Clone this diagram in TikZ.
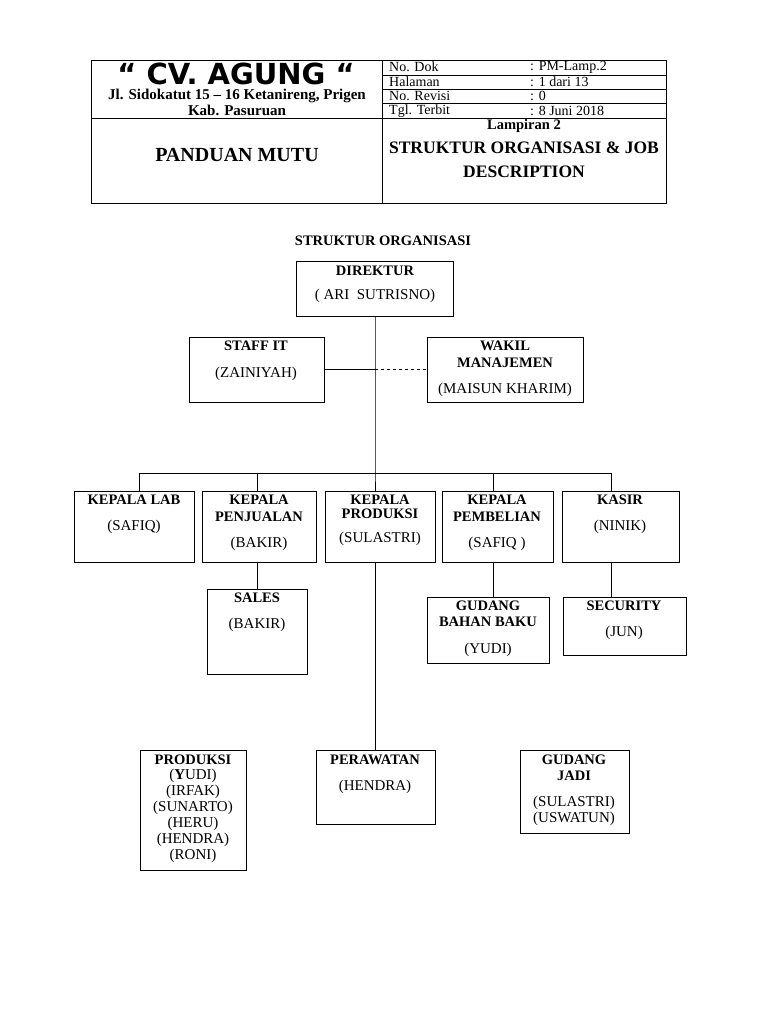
\documentclass[tikz,border=0pt]{standalone}
\usepackage{fontspec}
\setmainfont{Liberation Serif}
\newfontfamily\dejab{DejaVu Sans}
\begin{document}
\begin{tikzpicture}[x=1pt,y=-1pt,
  box/.style={draw,line width=0.8pt,inner sep=0pt,anchor=north west},
  ln/.style={line width=0.8pt},
  b/.style={font=\fontsize{14.5}{16}\selectfont\bfseries,inner sep=0pt},
  r/.style={font=\fontsize{15}{16}\selectfont,inner sep=0pt},
  hd/.style={font=\fontsize{14}{15}\selectfont,inner sep=0pt,anchor=west}]
\useasboundingbox[fill=white] (0,0) rectangle (768,1024);
% header
\draw[ln] (91,60) rectangle (666,203);
\draw[ln] (382,60) -- (382,203);
\draw[ln] (91,118) -- (666,118);
\foreach \yy in {75,89,103} \draw[ln] (382,\yy) -- (666,\yy);
\node[inner sep=0pt,font=\dejab\fontsize{29}{30}\selectfont\bfseries] (cv) at (236,74) {“ CV. AGUNG “};
\node[inner sep=0pt,font=\fontsize{15}{16}\selectfont\bfseries] (ad1) at (237,96) {Jl. Sidokatut 15 – 16 Ketanireng, Prigen};
\node[inner sep=0pt,font=\fontsize{15}{16}\selectfont\bfseries] (ad2) at (237,110) {Kab. Pasuruan};
\node[hd] (h1) at (389,67) {No. Dok}; \node[hd] (v1) at (530,67) {: PM-Lamp.2};
\node[hd] (h2) at (389,82) {Halaman}; \node[hd] (v2) at (530,82) {: 1 dari 13};
\node[hd] (h3) at (389,96) {No. Revisi}; \node[hd] (v3) at (530,96) {: 0};
\node[hd] (h4) at (389,111) {Tgl. Terbit}; \node[hd] (v4) at (530,111) {: 8 Juni 2018};
\node[inner sep=0pt,font=\fontsize{20}{22}\selectfont\bfseries] (pm) at (237,155) {PANDUAN MUTU};
\node[inner sep=0pt,font=\fontsize{14.5}{16}\selectfont\bfseries] (lam) at (524,126) {Lampiran 2};
\node[inner sep=0pt,font=\fontsize{17.5}{19}\selectfont\bfseries] (so1) at (524,148) {STRUKTUR ORGANISASI \& JOB};
\node[inner sep=0pt,font=\fontsize{17.5}{19}\selectfont\bfseries] (so2) at (524,172) {DESCRIPTION};
\node[b] (title) at (383,241) {STRUKTUR ORGANISASI};
% boxes
\node[box,minimum width=157pt,minimum height=55pt] (dir) at (296,261) {};
\node[b] at (375,271) {DIREKTUR}; \node[r] at (375,296) {( ARI\ \ SUTRISNO)};
\node[box,minimum width=135pt,minimum height=65pt] (sit) at (189,337) {};
\node[b] at (256,346) {STAFF IT}; \node[r] at (256,374) {(ZAINIYAH)};
\node[box,minimum width=156pt,minimum height=65pt] (wak) at (427,337) {};
\node[b] at (505,346) {WAKIL}; \node[b] at (505,363) {MANAJEMEN}; \node[r] at (505,390) {(MAISUN KHARIM)};
% row
\node[box,minimum width=120pt,minimum height=71pt] (lab) at (74,491) {};
\node[b] at (134,500) {KEPALA LAB}; \node[r] at (134,527) {(SAFIQ)};
\node[box,minimum width=114pt,minimum height=71pt] (pen) at (202,491) {};
\node[b] at (259,500) {KEPALA}; \node[b] at (259,517) {PENJUALAN}; \node[r] at (259,544) {(BAKIR)};
\node[box,minimum width=110pt,minimum height=71pt] (pro) at (325,491) {};
\node[b] at (380,500) {KEPALA}; \node[b] at (380,514) {PRODUKSI}; \node[r] at (380,539) {(SULASTRI)};
\node[box,minimum width=111pt,minimum height=71pt] (pem) at (442,491) {};
\node[b] at (497,500) {KEPALA}; \node[b] at (497,517) {PEMBELIAN}; \node[r] at (497,544) {(SAFIQ )};
\node[box,minimum width=117pt,minimum height=71pt] (kas) at (562,491) {};
\node[b] at (620,500) {KASIR}; \node[r] at (620,527) {(NINIK)};
\node[box,minimum width=100pt,minimum height=85pt] (sal) at (207,589) {};
\node[b] at (257,598) {SALES}; \node[r] at (257,625) {(BAKIR)};
\node[box,minimum width=122pt,minimum height=66pt] (gbb) at (427,597) {};
\node[b] at (488,606) {GUDANG}; \node[b] at (488,622) {BAHAN BAKU}; \node[r] at (488,650) {(YUDI)};
\node[box,minimum width=123pt,minimum height=58pt] (sec) at (563,597) {};
\node[b] at (624,606) {SECURITY}; \node[r] at (624,633) {(JUN)};
% bottom
\node[box,minimum width=106pt,minimum height=120pt] (prd) at (140,750) {};
\node[b] at (193,760) {PRODUKSI};
\node[r] at (193,776) {(\textbf{Y}UDI)}; \node[r] at (193,792) {(IRFAK)};
\node[r] at (193,808) {(SUNARTO)}; \node[r] at (193,824) {(HERU)};
\node[r] at (193,840) {(HENDRA)}; \node[r] at (193,856) {(RONI)};
\node[box,minimum width=119pt,minimum height=74pt] (per) at (316,750) {};
\node[b] at (375,760) {PERAWATAN}; \node[r] at (375,787) {(HENDRA)};
\node[box,minimum width=109pt,minimum height=83pt] (gj) at (520,750) {};
\node[b] at (574,760) {GUDANG}; \node[b] at (574,776) {JADI};
\node[r] at (574,803) {(SULASTRI)}; \node[r] at (574,819) {(USWATUN)};
% connectors
\coordinate (top) at (375,316);
\coordinate (j1) at (375,369);
\coordinate (bus) at (375,473);
\draw[ln] (top) -- (bus) -- (375,491);
\draw[ln] (324,369) -- (j1);
\draw[ln,dashed] (j1) -- (427,369);
\draw[ln] (139,473) -- (611,473);
\draw[ln] (139,473) -- (139,491);
\draw[ln] (257,473) -- (257,491);
\draw[ln] (493,473) -- (493,491);
\draw[ln] (611,473) -- (611,491);
\draw[ln] (257,562) -- (257,589);
\draw[ln] (493,562) -- (493,597);
\draw[ln] (611,562) -- (611,597);
\draw[ln] (375,562) -- (375,750);
\end{tikzpicture}
\end{document}
